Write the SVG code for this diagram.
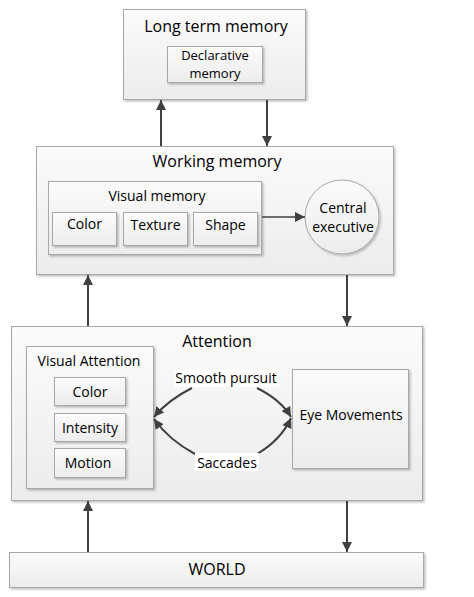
<svg xmlns="http://www.w3.org/2000/svg" width="474" height="597" viewBox="0 0 474 597">
<defs>
<linearGradient id="g" x1="0" y1="0" x2="0" y2="1">
<stop offset="0" stop-color="#fbfbfb"/>
<stop offset="1" stop-color="#ececec"/>
</linearGradient>
<filter id="sh" x="-5%" y="-5%" width="110%" height="115%">
<feDropShadow dx="1.5" dy="1.5" stdDeviation="0.8" flood-color="#000" flood-opacity="0.25"/>
</filter>
<marker id="ah" viewBox="0 0 10 10" refX="10" refY="5" markerWidth="10" markerHeight="10" markerUnits="userSpaceOnUse" orient="auto">
<path d="M0,0 L10,5 L0,10 Z" fill="#404040"/>
</marker>
</defs>
<style>
.box{fill:url(#g);stroke:#a8a8a8;stroke-width:1;filter:url(#sh)}
.t{font-family:"Open Sans","Noto Sans",sans-serif;fill:#000;text-anchor:middle;dominant-baseline:central}
.big{font-size:16px}
.sm{font-size:14px}
.xs{font-size:13px}
.c{stroke:#404040;stroke-width:2;fill:none;marker-end:url(#ah)}
.lbl{fill:#fff}
</style>
<rect width="474" height="597" fill="#fff"/>
<g id="long-term-memory">
<rect class="box" x="123.5" y="9.5" width="182" height="90"/>
<text class="t big" x="216" y="26">Long term memory</text>
</g>
<g id="declarative-memory">
<rect class="box" x="167.5" y="46.5" width="95" height="36"/>
<text class="t xs" x="215" y="55">Declarative</text>
<text class="t xs" x="215" y="73">memory</text>
</g>
<g id="working-memory">
<rect class="box" x="36.5" y="146.5" width="357" height="128"/>
<text class="t big" x="217" y="161">Working memory</text>
</g>
<g id="visual-memory">
<rect class="box" x="48.5" y="181.5" width="213" height="73"/>
<text class="t sm" x="157" y="195">Visual memory</text>
</g>
<g id="vm-color">
<rect class="box" x="52.5" y="212.5" width="64" height="33"/>
<text class="t sm" x="84.5" y="223">Color</text>
</g>
<g id="vm-texture">
<rect class="box" x="123.5" y="212.5" width="64" height="33"/>
<text class="t sm" x="155.5" y="224">Texture</text>
</g>
<g id="vm-shape">
<rect class="box" x="193.5" y="212.5" width="64" height="33"/>
<text class="t sm" x="225.5" y="224">Shape</text>
</g>
<g id="central-executive">
<circle class="box" cx="342" cy="217" r="37"/>
<text class="t sm" x="343" y="207">Central</text>
<text class="t sm" x="343" y="226">executive</text>
</g>
<g id="attention">
<rect class="box" x="11.5" y="326.5" width="411" height="174"/>
<text class="t big" x="217" y="341">Attention</text>
</g>
<g id="visual-attention">
<rect class="box" x="26.5" y="346.5" width="127" height="142"/>
<text class="t sm" x="89" y="360">Visual Attention</text>
</g>
<g id="va-color">
<rect class="box" x="54.5" y="377.5" width="71" height="28"/>
<text class="t sm" x="90" y="391">Color</text>
</g>
<g id="va-intensity">
<rect class="box" x="54.5" y="413.5" width="71" height="28"/>
<text class="t sm" x="90" y="427">Intensity</text>
</g>
<g id="va-motion">
<rect class="box" x="54.5" y="448.5" width="71" height="29"/>
<text class="t sm" x="88" y="462">Motion</text>
</g>
<g id="eye-movements">
<rect class="box" x="292.5" y="369.5" width="116" height="99"/>
<text class="t sm" x="351" y="414">Eye Movements</text>
</g>
<g id="world">
<rect class="box" x="9.5" y="552.5" width="414" height="35"/>
<text class="t big" x="217" y="569">WORLD</text>
</g>
<g id="connectors">
<line class="c" x1="161" y1="146" x2="161" y2="100"/>
<line class="c" x1="267" y1="100" x2="267" y2="146"/>
<line class="c" x1="88" y1="326" x2="88" y2="275"/>
<line class="c" x1="347" y1="275" x2="347" y2="326"/>
<line class="c" x1="88" y1="552" x2="88" y2="501"/>
<line class="c" x1="347" y1="501" x2="347" y2="552"/>
<line class="c" style="stroke-width:1.5" x1="262" y1="217" x2="305" y2="217"/>
<path class="c" d="M192,388 Q168,400 154,417"/>
<path class="c" d="M257,388 Q281,400 291,417"/>
<path class="c" d="M195,454 Q169,440 154,419"/>
<path class="c" d="M257,454 Q281,440 291,418"/>
<rect class="lbl" x="174" y="369" width="105" height="18"/>
<text class="t sm" x="226" y="377">Smooth pursuit</text>
<rect class="lbl" x="195" y="453" width="64" height="18"/>
<text class="t sm" x="227" y="462">Saccades</text>
</g>
</svg>
